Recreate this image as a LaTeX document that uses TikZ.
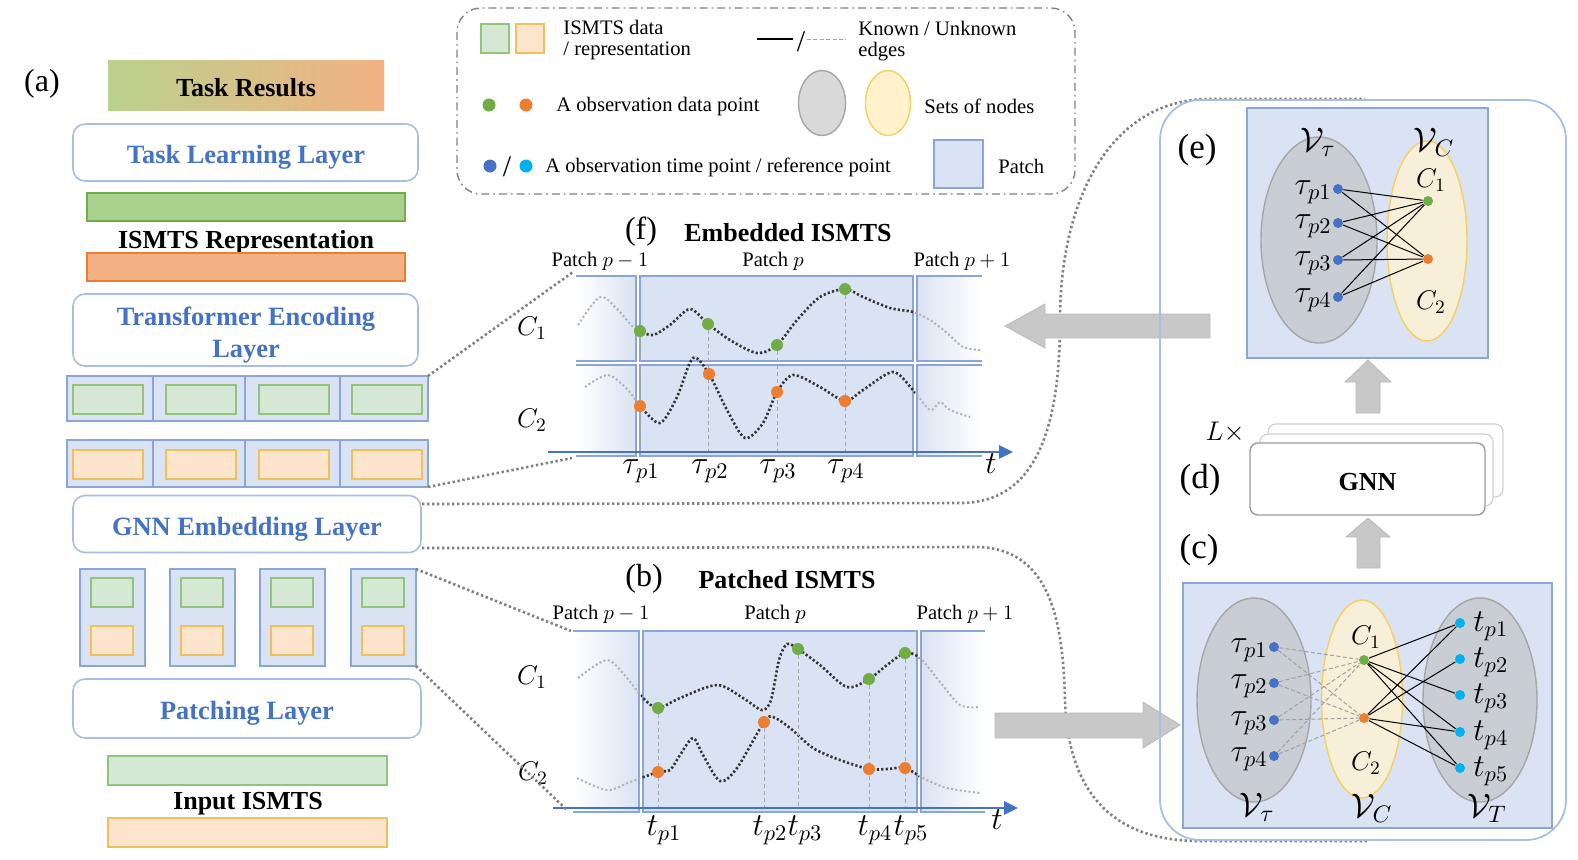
\RequirePackage{fix-cm}
\documentclass[tikz,border=0pt]{standalone}
\usepackage{fontspec}
\setmainfont{Liberation Serif}
\usetikzlibrary{arrows.meta,shapes.geometric}
\definecolor{pfill}{HTML}{DAE3F3}
\definecolor{pdraw}{HTML}{8AA5D6}
\definecolor{lborder}{HTML}{A9BEE4}
\definecolor{ltext}{HTML}{4472C4}
\definecolor{gfill}{HTML}{D5E8D4}
\definecolor{gdraw}{HTML}{93C47D}
\definecolor{ofill}{HTML}{FDE5CD}
\definecolor{odraw}{HTML}{F2C05A}
\definecolor{gbar}{HTML}{A9D18E}
\definecolor{gbard}{HTML}{70AD47}
\definecolor{obar}{HTML}{F4B183}
\definecolor{obard}{HTML}{ED7D31}
\definecolor{trg}{HTML}{B9D18C}
\definecolor{tro}{HTML}{F4B183}
\definecolor{gdot}{HTML}{70AD47}
\definecolor{odot}{HTML}{ED7D31}
\definecolor{bdot}{HTML}{4472C4}
\definecolor{cdot}{HTML}{00B0F0}
\definecolor{arrgray}{HTML}{C8C8C8}
\definecolor{arrgrayd}{HTML}{BBBBBB}
\definecolor{ellgray}{HTML}{C9CDD4}
\definecolor{ellgrayd}{HTML}{A6A6A6}
\definecolor{ellyel}{HTML}{F8EFD9}
\definecolor{ellyeld}{HTML}{F7CF5F}
\definecolor{lgray}{HTML}{D9D9D9}
\definecolor{lyel}{HTML}{FFF2CC}
\definecolor{curvecol}{HTML}{333333}
\definecolor{faintcol}{HTML}{B0B0B0}
\definecolor{conncol}{HTML}{808080}
\definecolor{vlinecol}{HTML}{A8A8A8}
\definecolor{uedgecol}{HTML}{A0A0A0}
\definecolor{legcol}{HTML}{808080}
\definecolor{stackcol}{HTML}{D0D0D0}
\definecolor{gnnborder}{HTML}{9A9A9A}
\tikzset{
  layerbox/.style={draw=lborder,line width=0.8pt,rounded corners=6pt,fill=white,inner sep=0pt},
  layertxt/.style={text=ltext,font=\fontsize{13.2}{16}\selectfont\bfseries,align=center,inner sep=0pt},
  blk/.style={font=\fontsize{13}{15}\selectfont\bfseries,inner sep=0pt},
  lgd/.style={font=\fontsize{10.3}{12}\selectfont,anchor=west,inner sep=0pt},
  plab/.style={font=\fontsize{10.3}{12}\selectfont,inner sep=0pt},
  panlab/.style={font=\fontsize{16}{18}\selectfont,inner sep=0pt},
  panlabr/.style={font=\fontsize{17.5}{19}\selectfont,inner sep=0pt},
  mlab/.style={font=\fontsize{16}{18}\selectfont,inner sep=0pt},
  clab/.style={font=\fontsize{13.5}{15}\selectfont,inner sep=0pt},
  vlab/.style={font=\fontsize{17}{19}\selectfont,inner sep=0pt},
  cell/.style={draw=pdraw,fill=pfill,line width=0.7pt},
  pline/.style={draw=pdraw,line width=0.7pt},
  gsq/.style={draw=gdraw,fill=gfill,line width=0.6pt},
  osq/.style={draw=odraw,fill=ofill,line width=0.6pt},
  dot/.style={circle,inner sep=0pt,minimum size=6pt},
  sdot/.style={circle,inner sep=0pt,minimum size=5pt},
  conn/.style={draw=conncol,line width=1.3pt,dash pattern=on 1.2pt off 1.3pt},
  dcurve/.style={draw=curvecol,line width=1.3pt,dash pattern=on 1.1pt off 1.1pt},
  fcurve/.style={draw=faintcol,line width=1pt,dash pattern=on 1pt off 1.2pt},
  vline/.style={draw=vlinecol,line width=0.4pt,dash pattern=on 2pt off 1.5pt},
  axisline/.style={draw=ltext,line width=1.4pt,-{Triangle[length=7pt,width=6.5pt]}},
  blockarrow/.style={fill=arrgray,draw=arrgrayd,line width=0.4pt},
  kedge/.style={draw=black,line width=0.5pt},
  uedge/.style={draw=uedgecol,line width=0.5pt,dash pattern=on 2pt off 1.2pt},
  setgray/.style={ellipse,draw=ellgrayd,fill=ellgray,line width=0.7pt,inner sep=0pt},
  setyel/.style={ellipse,draw=ellyeld,fill=ellyel,line width=0.7pt,inner sep=0pt},
  fcA/.style={insert path={plot[smooth,tension=0.5] coordinates {(578,325) (600,297) (618,310) (632,326) (640,331) (653,335) (670,325) (690,309) (708,324) (730,340) (757,353) (777,345) (797,320) (820,297) (845,289) (863,297) (890,308) (913,312) (930,320) (947,333) (963,347) (980,350)}}},
  fcB/.style={insert path={plot[smooth,tension=0.5] coordinates {(585,387) (608,375) (628,390) (640,406) (660,423) (677,397) (693,358) (709,374) (727,410) (745,438) (763,423) (777,392) (793,375) (820,387) (845,401) (863,390) (893,372) (913,390) (930,410) (940,402) (950,410) (970,417)}}},
  bcA/.style={insert path={plot[smooth,tension=0.5] coordinates {(578,678) (607,660) (627,678) (643,698) (658,708) (680,698) (717,685) (743,698) (762,710) (771,700) (779,660) (787,644) (798,649) (820,665) (847,687) (869,679) (887,665) (905,653) (920,658) (940,682) (960,705) (980,707)}}},
  bcB/.style={insert path={plot[smooth,tension=0.5] coordinates {(577,778) (607,790) (630,782) (658,772) (670,770) (680,755) (693,738) (703,755) (720,781) (737,768) (764,722) (773,717) (790,728) (813,748) (840,760) (869,769) (887,769) (905,768) (923,778) (947,788) (980,793)}}},
}
\begin{document}
\begin{tikzpicture}[x=0.5pt,y=-0.5pt]
\useasboundingbox (0,0) rectangle (1578,859);

% ================= left column (a)
\node[panlab] (lba) at (42,84) {(a)};
\shade[left color=trg,right color=tro] (108,60) rectangle (384,110);
\node[blk] (tres) at (246,88) {Task Results};
\node[layerbox,minimum width=172.5pt,minimum height=28.5pt] (tll) at (245.5,152.5) {};
\node[layertxt] (tllt) at (246,157) {Task Learning Layer};
\draw[draw=gbard,fill=gbar,line width=0.7pt] (87,193) rectangle (405,221);
\node[blk] (rep) at (246,242) {ISMTS Representation};
\draw[draw=obard,fill=obar,line width=0.7pt] (87,253) rectangle (405,281);
\node[layerbox,minimum width=172.5pt,minimum height=36pt] (tel) at (245.5,330) {};
\node[layertxt] (telt) at (246,335) {Transformer Encoding\\Layer};
\foreach \a/\b in {67/153,153/245,245/340,340/428} {
  \draw[cell] (\a,376) rectangle (\b,421);
  \draw[cell] (\a,440) rectangle (\b,487);
}
\foreach \a in {73,166,259,352} {
  \draw[gsq] (\a,385) rectangle ({\a+70},414);
  \draw[osq] (\a,450) rectangle ({\a+70},479);
}
\coordinate (grTR) at (428,376);
\coordinate (orBR) at (428,487);
\node[layerbox,minimum width=174pt,minimum height=28.5pt] (gel) at (247,524) {};
\node[layertxt] (gelt) at (247,529) {GNN Embedding Layer};
\foreach \a in {80,170,260,351} {
  \draw[cell] (\a,569) rectangle ({\a+65},666);
  \draw[gsq] ({\a+11},578) rectangle ({\a+53},607);
  \draw[osq] ({\a+11},626) rectangle ({\a+53},655);
}
\coordinate (pcTR) at (416,569);
\coordinate (pcBR) at (416,666);
\node[layerbox,minimum width=174pt,minimum height=29.5pt] (pl) at (247,708.5) {};
\node[layertxt] (plt) at (247,713) {Patching Layer};
\draw[gsq] (108,756) rectangle (387,785);
\node[blk] (inp) at (248,804) {Input ISMTS};
\draw[osq] (108,818) rectangle (387,847);

% ================= legend
\draw[draw=legcol,line width=0.7pt,rounded corners=12pt,dash pattern=on 4pt off 2pt on 0.8pt off 2pt] (457,8) rectangle (1075,194);
\draw[gsq] (481,24) rectangle (509,53);
\draw[osq] (516,24) rectangle (544,53);
\node[lgd] (l1) at (563,27) {ISMTS data};
\node[lgd] (l2) at (563,51) {/ representation};
\coordinate (ka) at (757,39);
\coordinate (kb) at (793,39);
\draw[black,line width=0.8pt] (ka) -- (kb);
\node[font=\fontsize{15}{15}\selectfont,inner sep=0pt] (lsl1) at (801,42) {/};
\coordinate (ua) at (807,39);
\coordinate (ub) at (846,39);
\draw[uedge] (ua) -- (ub);
\node[lgd] (l3) at (858,28) {Known / Unknown};
\node[lgd] (l4) at (858,52) {edges};
\node[dot,fill=gdot,minimum size=6.5pt] (lg) at (489,105) {};
\node[dot,fill=odot,minimum size=6.5pt] (lo) at (526,105) {};
\node[lgd] (l5) at (556,107) {A observation data point};
\node[ellipse,draw=ellgrayd,fill=lgray,line width=0.7pt,inner sep=0pt,minimum width=23.5pt,minimum height=32.5pt] (lge) at (822,103) {};
\node[ellipse,draw=ellyeld,fill=lyel,line width=0.7pt,inner sep=0pt,minimum width=22.5pt,minimum height=32.5pt] (lye) at (888,103) {};
\node[lgd] (l6) at (924,106) {Sets of nodes};
\node[dot,fill=bdot,minimum size=6.5pt] (lb) at (490,166) {};
\node[font=\fontsize{15}{15}\selectfont,inner sep=0pt] (lsl2) at (507,167) {/};
\node[dot,fill=cdot,minimum size=6.5pt] (lc) at (526,166) {};
\node[lgd] (l7) at (545,167) {A observation time point / reference point};
\draw[cell] (934,140) rectangle (983,188);
\node[lgd] (l8) at (998,166) {Patch};

% ================= panel (f)
\node[panlab] (lbf) at (641,232) {(f)};
\node[blk] (tf) at (788,233) {Embedded ISMTS};
\node[plab] (fp0) at (600,261) {Patch $p-1$};
\node[plab] (fp1) at (773,261) {Patch $p$};
\node[plab] (fp2) at (962,261) {Patch $p+1$};
\foreach \ya/\yb in {276/361,365/456} {
  \shade[left color=white,right color=pfill] (576,\ya) rectangle (636,\yb);
  \draw[pline] (576,\ya) -- (636,\ya) -- (636,\yb) -- (576,\yb);
  \draw[cell] (640,\ya) rectangle (913,\yb);
  \shade[left color=pfill,right color=white] (917,\ya) rectangle (982,\yb);
  \draw[pline] (982,\ya) -- (917,\ya) -- (917,\yb) -- (982,\yb);
}
\coordinate (fTL) at (573,272);
\coordinate (fBL) at (572,458);
\begin{scope}
  \clip (560,268) rectangle (638,462) (915,268) rectangle (1000,462);
  \draw[fcurve,fcA];
  \draw[fcurve,fcB];
\end{scope}
\begin{scope}
  \clip (638,268) rectangle (915,462);
  \draw[dcurve,fcA];
  \draw[dcurve,fcB];
\end{scope}
\coordinate (faL) at (548,452);
\coordinate (faR) at (1013,452);
\node[dot,fill=gdot] (fg1) at (640,331) {};
\node[dot,fill=gdot] (fg2) at (708,324) {};
\node[dot,fill=gdot] (fg3) at (777,345) {};
\node[dot,fill=gdot] (fg4) at (845,289) {};
\foreach \n in {fg1,fg2,fg3,fg4} { \draw[vline] (\n) -- (\n |- faL); }
\node[dot,fill=odot] (fo1) at (640,406) {};
\node[dot,fill=odot] (fo2) at (709,374) {};
\node[dot,fill=odot] (fo3) at (777,392) {};
\node[dot,fill=odot] (fo4) at (845,401) {};
\draw[axisline] (faL) -- (faR);
\node[clab] (fC1) at (532,328) {$C_1$};
\node[clab] (fC2) at (532,420) {$C_2$};
\node[mlab] (ft1) at (641,471) {$\tau_{p1}$};
\node[mlab] (ft2) at (710,471) {$\tau_{p2}$};
\node[mlab] (ft3) at (778,471) {$\tau_{p3}$};
\node[mlab] (ft4) at (846,471) {$\tau_{p4}$};
\node[mlab] (ftt) at (991,464) {$t$};

% ================= panel (b)
\node[panlab] (lbb) at (644,579) {(b)};
\node[blk] (tb) at (787,580) {Patched ISMTS};
\node[plab] (bp0) at (601,614) {Patch $p-1$};
\node[plab] (bp1) at (775,614) {Patch $p$};
\node[plab] (bp2) at (965,614) {Patch $p+1$};
\shade[left color=white,right color=pfill] (573,631) rectangle (639,812);
\draw[pline] (573,631) -- (639,631) -- (639,812) -- (573,812);
\draw[cell] (643,631) rectangle (917,812);
\shade[left color=pfill,right color=white] (921,631) rectangle (985,812);
\draw[pline] (985,631) -- (921,631) -- (921,812) -- (985,812);
\coordinate (bTL) at (571,631);
\coordinate (bBL) at (567,810);
\begin{scope}
  \clip (560,622) rectangle (641,816) (919,622) rectangle (1000,816);
  \draw[fcurve,bcA];
  \draw[fcurve,bcB];
\end{scope}
\begin{scope}
  \clip (641,622) rectangle (919,816);
  \draw[dcurve,bcA];
  \draw[dcurve,bcB];
\end{scope}
\coordinate (baL) at (553,808);
\coordinate (baR) at (1018,808);
\node[dot,fill=gdot] (bg1) at (658,708) {};
\node[dot,fill=gdot] (bg3) at (798,649) {};
\node[dot,fill=gdot] (bg4) at (869,679) {};
\node[dot,fill=gdot] (bg5) at (905,653) {};
\node[dot,fill=odot] (bo2) at (764,722) {};
\foreach \n in {bg1,bg3,bg4,bg5,bo2} { \draw[vline] (\n) -- (\n |- baL); }
\node[dot,fill=odot] (bo1) at (658,772) {};
\node[dot,fill=odot] (bo4) at (869,769) {};
\node[dot,fill=odot] (bo5) at (905,768) {};
\draw[axisline] (baL) -- (baR);
\node[clab] (bC1) at (532,677) {$C_1$};
\node[clab] (bC2) at (533,773) {$C_2$};
\node[mlab] (bt1) at (664,830) {$t_{p1}$};
\node[mlab] (bt2) at (770,830) {$t_{p2}$};
\node[mlab] (bt3) at (805,830) {$t_{p3}$};
\node[mlab] (bt4) at (875,830) {$t_{p4}$};
\node[mlab] (bt5) at (911,830) {$t_{p5}$};
\node[mlab] (btt) at (997,820) {$t$};

% ================= dotted connectors
\draw[conn] (grTR) -- (fTL);
\draw[conn] (orBR) -- (fBL);
\draw[conn] (pcTR) -- (bTL);
\draw[conn] (pcBR) -- (bBL);
\coordinate (gU) at (422,504);
\coordinate (gD) at (422,548);
\coordinate (eTop) at (1365,99);
\coordinate (cBot) at (1368,841);
\draw[conn] (gU) -- (960,503) .. controls (1040,503) and (1060,420) .. (1060,320)
   .. controls (1060,200) and (1110,99) .. (1210,99) -- (eTop);
\draw[conn] (gD) -- (975,547) .. controls (1050,547) and (1063,620) .. (1065,700)
   .. controls (1068,790) and (1110,841) .. (1200,841) -- (cBot);

% ================= block arrows
\draw[blockarrow] (1210,314) -- (1045,314) -- (1045,304) -- (1005,326) -- (1045,348) -- (1045,338) -- (1210,338) -- cycle;
\draw[blockarrow] (995,713) -- (1143,713) -- (1143,702) -- (1180,725) -- (1143,748) -- (1143,738) -- (995,738) -- cycle;
\draw[blockarrow] (1357,568) -- (1357,537) -- (1346,537) -- (1368,518) -- (1390,537) -- (1380,537) -- (1380,568) -- cycle;
\draw[blockarrow] (1356,413) -- (1356,382) -- (1345,382) -- (1368,360) -- (1391,382) -- (1380,382) -- (1380,413) -- cycle;

% ================= big right box
\draw[draw=lborder,line width=0.9pt,rounded corners=20pt] (1160,100) rectangle (1566,840);

% ================= panel (e)
\node[panlabr] (lbe) at (1197,150) {(e)};
\draw[cell] (1247,108) rectangle (1488,358);
\node[setgray,minimum width=58pt,minimum height=103pt] (eVt) at (1319,240) {};
\node[setyel,minimum width=40pt,minimum height=100pt] (eVc) at (1427,241) {};
\node[vlab] (eLt) at (1318,142) {$\mathcal{V}_\tau$};
\node[vlab] (eLc) at (1434,142) {$\mathcal{V}_C$};
\node[sdot,fill=bdot] (et1) at (1338,189) {};
\node[sdot,fill=bdot] (et2) at (1338,223) {};
\node[sdot,fill=bdot] (et3) at (1338,260) {};
\node[sdot,fill=bdot] (et4) at (1338,297) {};
\node[mlab,anchor=east] at (1332,192) {$\tau_{p1}$};
\node[mlab,anchor=east] at (1332,226) {$\tau_{p2}$};
\node[mlab,anchor=east] at (1332,263) {$\tau_{p3}$};
\node[mlab,anchor=east] at (1332,300) {$\tau_{p4}$};
\node[sdot,fill=gdot] (ec1) at (1428,201) {};
\node[sdot,fill=odot] (ec2) at (1428,259) {};
\node[clab] (eC1) at (1431,180) {$C_1$};
\node[clab] (eC2) at (1431,302) {$C_2$};
\foreach \a in {et1,et2,et3,et4} {
  \draw[kedge] (\a) -- (ec1);
  \draw[kedge] (\a) -- (ec2);
}

% ================= panel (d)
\node[font=\fontsize{13.5}{15}\selectfont,inner sep=0pt] (lLx) at (1225,432) {$L\times$};
\node[panlabr] (lbd) at (1200,480) {(d)};
\draw[draw=stackcol,fill=white,rounded corners=4pt,line width=0.6pt] (1268,424) rectangle (1503,497);
\draw[draw=stackcol,fill=white,rounded corners=4pt,line width=0.6pt] (1260,434) rectangle (1493,506);
\node[draw=gnnborder,fill=white,rounded corners=4pt,line width=0.7pt,minimum width=117.5pt,minimum height=36pt] (gnn) at (1367.5,479) {};
\node[blk] (gnnt) at (1367.5,482) {GNN};

% ================= panel (c)
\node[panlabr] (lbc) at (1199,550) {(c)};
\draw[cell] (1183,583) rectangle (1552,828);
\node[setgray,minimum width=57pt,minimum height=102pt] (cVt) at (1254,700) {};
\node[setyel,minimum width=40.5pt,minimum height=99pt] (cVc) at (1362,699) {};
\node[setgray,minimum width=57pt,minimum height=102pt] (cVT) at (1480,700) {};
\node[sdot,fill=bdot] (ct1) at (1274,647) {};
\node[sdot,fill=bdot] (ct2) at (1274,683) {};
\node[sdot,fill=bdot] (ct3) at (1274,720) {};
\node[sdot,fill=bdot] (ct4) at (1274,756) {};
\node[mlab,anchor=east] at (1268,650) {$\tau_{p1}$};
\node[mlab,anchor=east] at (1268,686) {$\tau_{p2}$};
\node[mlab,anchor=east] at (1268,723) {$\tau_{p3}$};
\node[mlab,anchor=east] at (1268,759) {$\tau_{p4}$};
\node[sdot,fill=gdot] (cc1) at (1364,660) {};
\node[sdot,fill=odot] (cc2) at (1364,718) {};
\node[clab] (cC1) at (1366,637) {$C_1$};
\node[clab] (cC2) at (1366,763) {$C_2$};
\node[sdot,fill=cdot] (cs1) at (1460,623) {};
\node[sdot,fill=cdot] (cs2) at (1460,659) {};
\node[sdot,fill=cdot] (cs3) at (1460,695) {};
\node[sdot,fill=cdot] (cs4) at (1460,732) {};
\node[sdot,fill=cdot] (cs5) at (1460,768) {};
\node[mlab,anchor=west] at (1473,626) {$t_{p1}$};
\node[mlab,anchor=west] at (1473,662) {$t_{p2}$};
\node[mlab,anchor=west] at (1473,698) {$t_{p3}$};
\node[mlab,anchor=west] at (1473,735) {$t_{p4}$};
\node[mlab,anchor=west] at (1473,771) {$t_{p5}$};
\foreach \a in {ct1,ct2,ct3,ct4} {
  \draw[uedge] (\a) -- (cc1);
  \draw[uedge] (\a) -- (cc2);
}
\foreach \a in {cs1,cs3,cs4,cs5} { \draw[kedge] (cc1) -- (\a); }
\foreach \a in {cs1,cs2,cs4,cs5} { \draw[kedge] (cc2) -- (\a); }
\node[vlab] (cLt) at (1257,807) {$\mathcal{V}_\tau$};
\node[vlab] (cLc) at (1372,808) {$\mathcal{V}_C$};
\node[vlab] (cLT) at (1487,808) {$\mathcal{V}_T$};
\end{tikzpicture}
\end{document}
